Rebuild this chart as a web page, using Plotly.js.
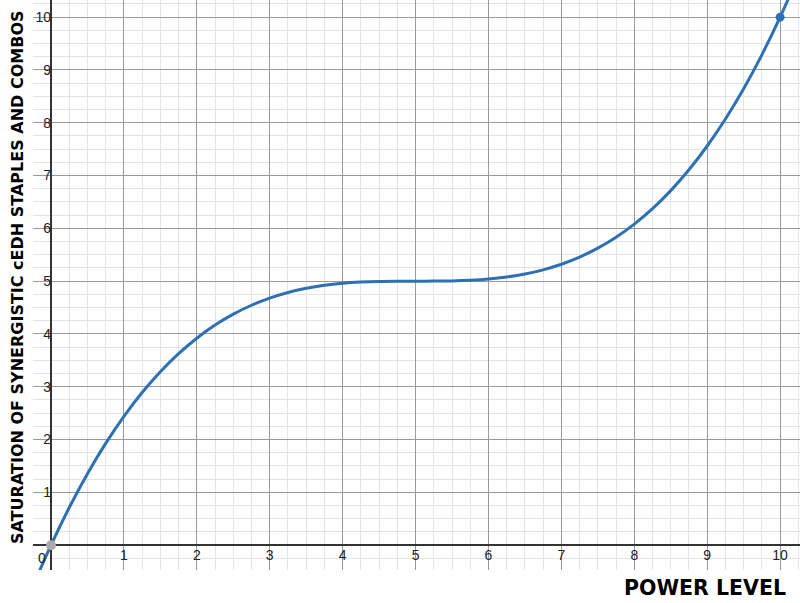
<!DOCTYPE html>
<html>
<head>
<meta charset="utf-8">
<script src="https://cdn.plot.ly/plotly-3.0.1.min.js"></script>
<style>html,body{margin:0;padding:0;background:#fff;}#chart{width:800px;height:603px;}</style>
</head>
<body>
<div id="chart"></div>
<script>
// Curve values
const powerLevel = [-0.5,-0.25,0,0.25,0.5,0.75,1,1.25,1.5,1.75,2,2.25,2.5,2.75,3,3.25,3.5,3.75,4,4.25,4.5,4.75,5,5.25,5.5,5.75,6,6.25,6.5,6.75,7,7.25,7.5,7.75,8,8.25,8.5,8.75,9,9.25,9.5,9.75,10,10.25,10.5];
const saturation = [-1.655,-0.788,0,0.713,1.355,1.929,2.44,2.891,3.285,3.627,3.92,4.168,4.375,4.544,4.68,4.786,4.865,4.922,4.96,4.983,4.995,4.999,5.0,5.001,5.005,5.017,5.04,5.078,5.135,5.214,5.32,5.456,5.625,5.832,6.08,6.373,6.715,7.109,7.56,8.071,8.645,9.287,10,10.788,11.655];
const startPoint = {x:[0], y:[0]};
const endPoint = {x:[10], y:[10]};

const traces = [
  {x: powerLevel, y: saturation, type:'scatter', mode:'lines',
   line:{color:'#2d70b3', width:3, shape:'spline', smoothing:1}, hoverinfo:'skip'},
  {x: startPoint.x, y: startPoint.y, type:'scatter', mode:'markers',
   marker:{color:'#aaaaaa', size:10}, cliponaxis:false},
  {x: endPoint.x, y: endPoint.y, type:'scatter', mode:'markers',
   marker:{color:'#2d70b3', size:9}, cliponaxis:false}
];

const tickFont = {family:'Arial, Liberation Sans, sans-serif', size:14, color:'#222'};

const layout = {
  width:800, height:603,
  margin:{l:33, r:0, t:0, b:33, pad:0},
  paper_bgcolor:'#fff', plot_bgcolor:'#fff',
  showlegend:false,
  xaxis:{
    range:[-0.247, 10.273], tickmode:'linear', tick0:0, dtick:1, labelalias:{'0':' '},
    showgrid:true, gridcolor:'#9a9a9a', gridwidth:1,
    minor:{tickmode:'linear', tick0:0, dtick:0.25, showgrid:true, gridcolor:'#e4e4e4', gridwidth:1},
    zeroline:true, zerolinecolor:'#333', zerolinewidth:2,
    showline:false, ticks:'', anchor:'free', position:0.0439, side:'bottom',
    tickfont:tickFont, fixedrange:true
  },
  yaxis:{
    range:[-0.47, 10.325], tickmode:'linear', tick0:0, dtick:1, labelalias:{'0':' '},
    showgrid:true, gridcolor:'#9a9a9a', gridwidth:1,
    minor:{tickmode:'linear', tick0:0, dtick:0.25, showgrid:true, gridcolor:'#e4e4e4', gridwidth:1},
    zeroline:true, zerolinecolor:'#333', zerolinewidth:2,
    showline:false, ticks:'', anchor:'free', position:0.0235, side:'left',
    tickfont:tickFont, fixedrange:true
  },
  annotations:[
    {text:'0', xref:'x', yref:'y', x:0, y:0, xanchor:'right', yanchor:'top', xshift:-3, yshift:-3,
     showarrow:false, font:tickFont},
    {text:'<b>POWER LEVEL</b>', xref:'paper', yref:'paper', x:0.984, y:-0.0316, xanchor:'right', yanchor:'middle',
     showarrow:false, font:{family:'DejaVu Sans, Verdana, sans-serif', size:20.5, color:'#000'}},
    {text:'<b>SATURATION OF SYNERGISTIC cEDH STAPLES AND COMBOS</b>', xref:'paper', yref:'paper',
     x:-0.0209, y:0.514, xanchor:'center', yanchor:'middle', textangle:-90,
     showarrow:false, font:{family:'DejaVu Sans, Verdana, sans-serif', size:16, color:'#000'}}
  ]
};

Plotly.newPlot('chart', traces, layout, {displayModeBar:false, staticPlot:true});
</script>
</body>
</html>
